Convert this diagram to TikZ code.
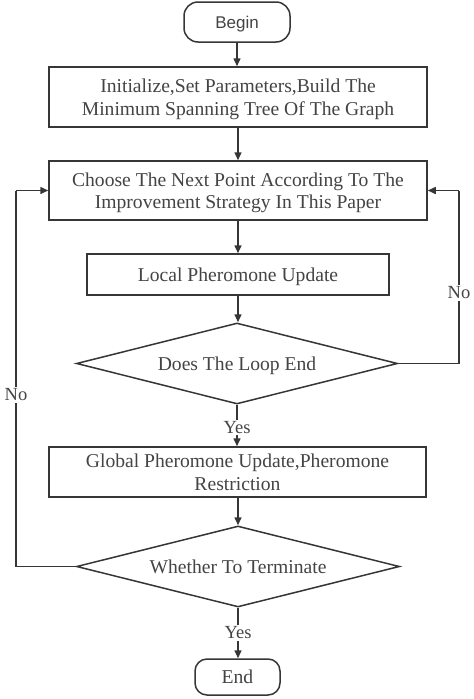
\documentclass[tikz,border=0pt]{standalone}
\usepackage{fontspec}
\setmainfont{Liberation Serif}
\newfontfamily\beginfont{Liberation Sans}
\usetikzlibrary{shapes.geometric,arrows.meta}
\definecolor{linec}{HTML}{363636}
\definecolor{textc}{HTML}{444444}
\begin{document}
\begin{tikzpicture}[x=1pt,y=-1pt,
  base/.style={draw=linec,line width=1.5pt,text=textc,inner sep=0pt,align=center,text depth=0pt,
    font=\fontsize{19.6}{22.5}\selectfont},
  procbox/.style={base,rectangle},
  termbox/.style={base,rectangle,rounded corners=14pt},
  decbox/.style={base,diamond,shape aspect=4},
  lbl/.style={text=textc,fill=white,inner sep=1.5pt,font=\fontsize{18.5}{22}\selectfont},
  conn/.style={draw=linec,line width=1.5pt,-{Triangle[length=8pt,width=7pt]}},
  plain/.style={draw=linec,line width=1.5pt}]
\useasboundingbox (0,0) rectangle (474,699);
\fill[white] (0,0) rectangle (474,699);
\node[termbox,minimum width=106pt,minimum height=40pt,font=\beginfont\fontsize{17}{20}\selectfont] (begin) at (237,22) {Begin};
\node[procbox,minimum width=378pt,minimum height=60pt] (init) at (238,97) {Initialize,Set Parameters,Build The\\Minimum Spanning Tree Of The Graph};
\node[procbox,minimum width=378pt,minimum height=59pt] (choose) at (238,190.5) {Choose The Next Point According To The\\Improvement Strategy In This Paper};
\node[procbox,minimum width=302pt,minimum height=41pt] (local) at (238,274.5) {Local Pheromone Update};
\node[decbox,minimum width=321pt,minimum height=81pt] (loop) at (237,363.5) {Does The Loop End};
\node[procbox,minimum width=377pt,minimum height=50pt] (global) at (237.5,472) {Global Pheromone Update,Pheromone\\Restriction};
\node[decbox,minimum width=323pt,minimum height=81pt] (term) at (238,566.5) {Whether To Terminate};
\node[termbox,minimum width=85pt,minimum height=36pt,rounded corners=12pt] (end) at (237.5,677) {End};
\coordinate (rc) at (459,363.5);
\coordinate (rt) at (459,190.5);
\coordinate (lc) at (16,566.5);
\coordinate (lt) at (16,190.5);
\draw[conn] (begin.south) -- (begin.south |- init.north);
\draw[conn] (init.south -| choose.north) -- (choose.north);
\draw[conn] (choose.south) -- (local.north);
\draw[conn] (local.south) -- (local.south |- loop.north);
\draw[conn] (loop.south) -- (loop.south |- global.north) node[lbl,pos=0.55] (yes1) {Yes};
\draw[conn] (global.south -| term.north) -- (term.north);
\draw[conn] (term.south) -- (term.south |- end.north) node[lbl,pos=0.5] (yes2) {Yes};
\draw[plain] (loop.east) -- (rc) -- (rt);
\draw[conn] (rt) -- (choose.east);
\node[lbl] (no1) at (459,293) {No};
\draw[plain] (term.west) -- (lc) -- (lt);
\draw[conn] (lt) -- (choose.west);
\node[lbl] (no2) at (16,395) {No};
\end{tikzpicture}
\end{document}
